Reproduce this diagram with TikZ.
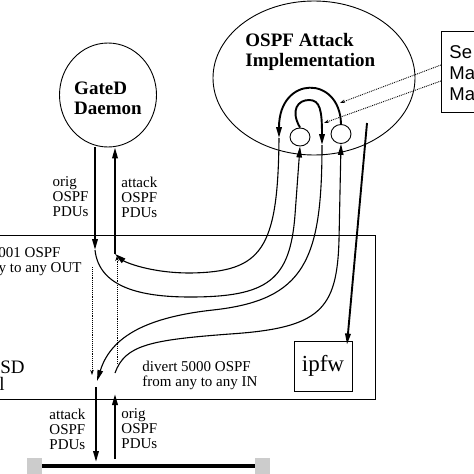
\documentclass[tikz,border=0pt]{standalone}
\usepackage{fontspec}
\setmainfont{Liberation Serif}
\newfontfamily\boxsans{Liberation Sans}
\usetikzlibrary{arrows.meta,shapes.geometric}

\tikzset{
  tip/.style={-{Triangle[length=11pt,width=5.5pt]}},
  fat/.style={line width=1.9pt},
  flow/.style={line width=1.1pt},
  rule/.style={densely dotted, line width=0.9pt, -{Stealth[length=5pt,width=3.5pt]}},
  lbl/.style={font=\fontsize{15}{15}\selectfont, align=left, inner sep=0pt},
  bold/.style={font=\fontsize{19}{20}\selectfont\bfseries, align=left, inner sep=0pt},
  proc/.style={ellipse, draw, line width=0.9pt, inner sep=0pt},
}

\begin{document}
\begin{tikzpicture}[x=1pt,y=-1pt,line width=0.9pt]
\useasboundingbox (0,0) rectangle (474,474);
\clip (0,0) rectangle (474,474);

% processes
\node[proc, minimum width=97pt, minimum height=104pt] (gated) at (108,95) {};
\node[bold] (gatedtxt) at (108,98) {GateD\\Daemon};
\node[proc, minimum width=202pt, minimum height=154pt] (attack) at (314,78) {};
\node[bold, anchor=west] (attacktxt) at (245,52) {OSPF Attack\\Implementation};
\node[proc, minimum width=20pt, minimum height=18pt] (c1) at (300,137) {};
\node[proc, minimum width=20pt, minimum height=19pt] (c2) at (341,134) {};

% kernel
\node[draw, anchor=north east, minimum width=400pt, minimum height=164pt] (kernel) at (376,235) {};
\node[draw, minimum width=58pt, minimum height=50pt, font=\fontsize{23}{23}\selectfont] (ipfw) at (323,366) {ipfw};
\node[lbl, anchor=base east] (out1) at (61,257) {001 OSPF};
\node[lbl, anchor=base east] (out2) at (82,272) {y to any OUT};
\node[lbl, anchor=west] (intxt) at (142,375) {divert 5000 OSPF\\from any to any IN};
\node[anchor=base east, inner sep=0pt, font=\fontsize{19}{20}\selectfont] (bsd1) at (25,373) {SD};
\node[anchor=base east, inner sep=0pt, font=\fontsize{19}{20}\selectfont] (bsd2) at (5,390) {l};

% side box
\node[draw, anchor=north west, minimum width=60pt, minimum height=81pt] (sm) at (441,31) {};
\node[anchor=west, inner sep=0pt, align=left, font=\boxsans\fontsize{18.5}{21}\selectfont] (smtxt) at (449,73) {Se\\Ma\\Ma};

% network
\node[fill=gray!40, minimum width=15pt, minimum height=16pt, inner sep=0pt] (tapl) at (34.5,466) {};
\node[fill=gray!40, minimum width=15pt, minimum height=16pt, inner sep=0pt] (tapr) at (262.5,466) {};
\draw[line width=4pt] (tapl.east) -- (tapr.west);

% labels
\node[lbl, anchor=east] (orig1) at (89,197) {orig\\OSPF\\PDUs};
\node[lbl, anchor=west] (atk1) at (121,197) {attack\\OSPF\\PDUs};
\node[lbl, anchor=west] (atk2) at (49,429) {attack\\OSPF\\PDUs};
\node[lbl, anchor=west] (orig2) at (121,429) {orig\\OSPF\\PDUs};

% end points
\coordinate (gl) at (95,250);
\coordinate (gr) at (115,254);
\coordinate (kl) at (97,381);
\coordinate (kr) at (115,373);
\coordinate (dl) at (96,387);
\coordinate (dr) at (115,394);
\coordinate (nl) at (96,462);
\coordinate (nr) at (115,459);
\coordinate (oa) at (279,138);
\coordinate (ia) at (322,145);
\coordinate (ea) at (367,123);
\coordinate (ra) at (340,103);
\coordinate (rb) at (324,123);

% arrows
\draw[fat, tip] (gated.south -| gl) -- (gl);
\draw[fat, tip] (gr) -- (gated.south -| gr);
\draw[fat, tip] (dl) -- (nl);
\draw[fat, tip] (nr) -- (dr);
\draw[fat, tip] (c2.north) .. controls (340,75) and (279,75) .. (oa);
\draw[fat, tip] (c1.north) .. controls (290,110) and (298,100) .. (309,100) .. controls (320,100) and (322,110) .. (ia);
\draw[flow, tip] (oa) .. controls (278,250) and (262,272) .. (190,273) .. controls (150,273) and (125,262) .. (gr);
\draw[flow, tip] (gl) .. controls (99,287) and (140,297) .. (190,297) .. controls (268,297) and (290,280) .. (295,215) -- (c1.south);
\draw[flow, tip] (ia) .. controls (322,260) and (305,300) .. (213,310) .. controls (140,318) and (110,340) .. (kl);
\draw[flow, tip] (kr) .. controls (125,345) and (150,340) .. (230,334) .. controls (320,328) and (337,310) .. (339,240) -- (c2.south);
\draw[fat, tip] (ea) -- ([xshift=24pt,yshift=-4pt]ipfw.north);

% divert rules
\draw[rule] (92,267) -- (92,375);
\draw[rule] (117,364) -- (117,256);
\draw[rule] ([yshift=7pt]sm.west) -- (ra);
\draw[rule] ([yshift=-9pt]sm.west) -- (rb);
\end{tikzpicture}
\end{document}
